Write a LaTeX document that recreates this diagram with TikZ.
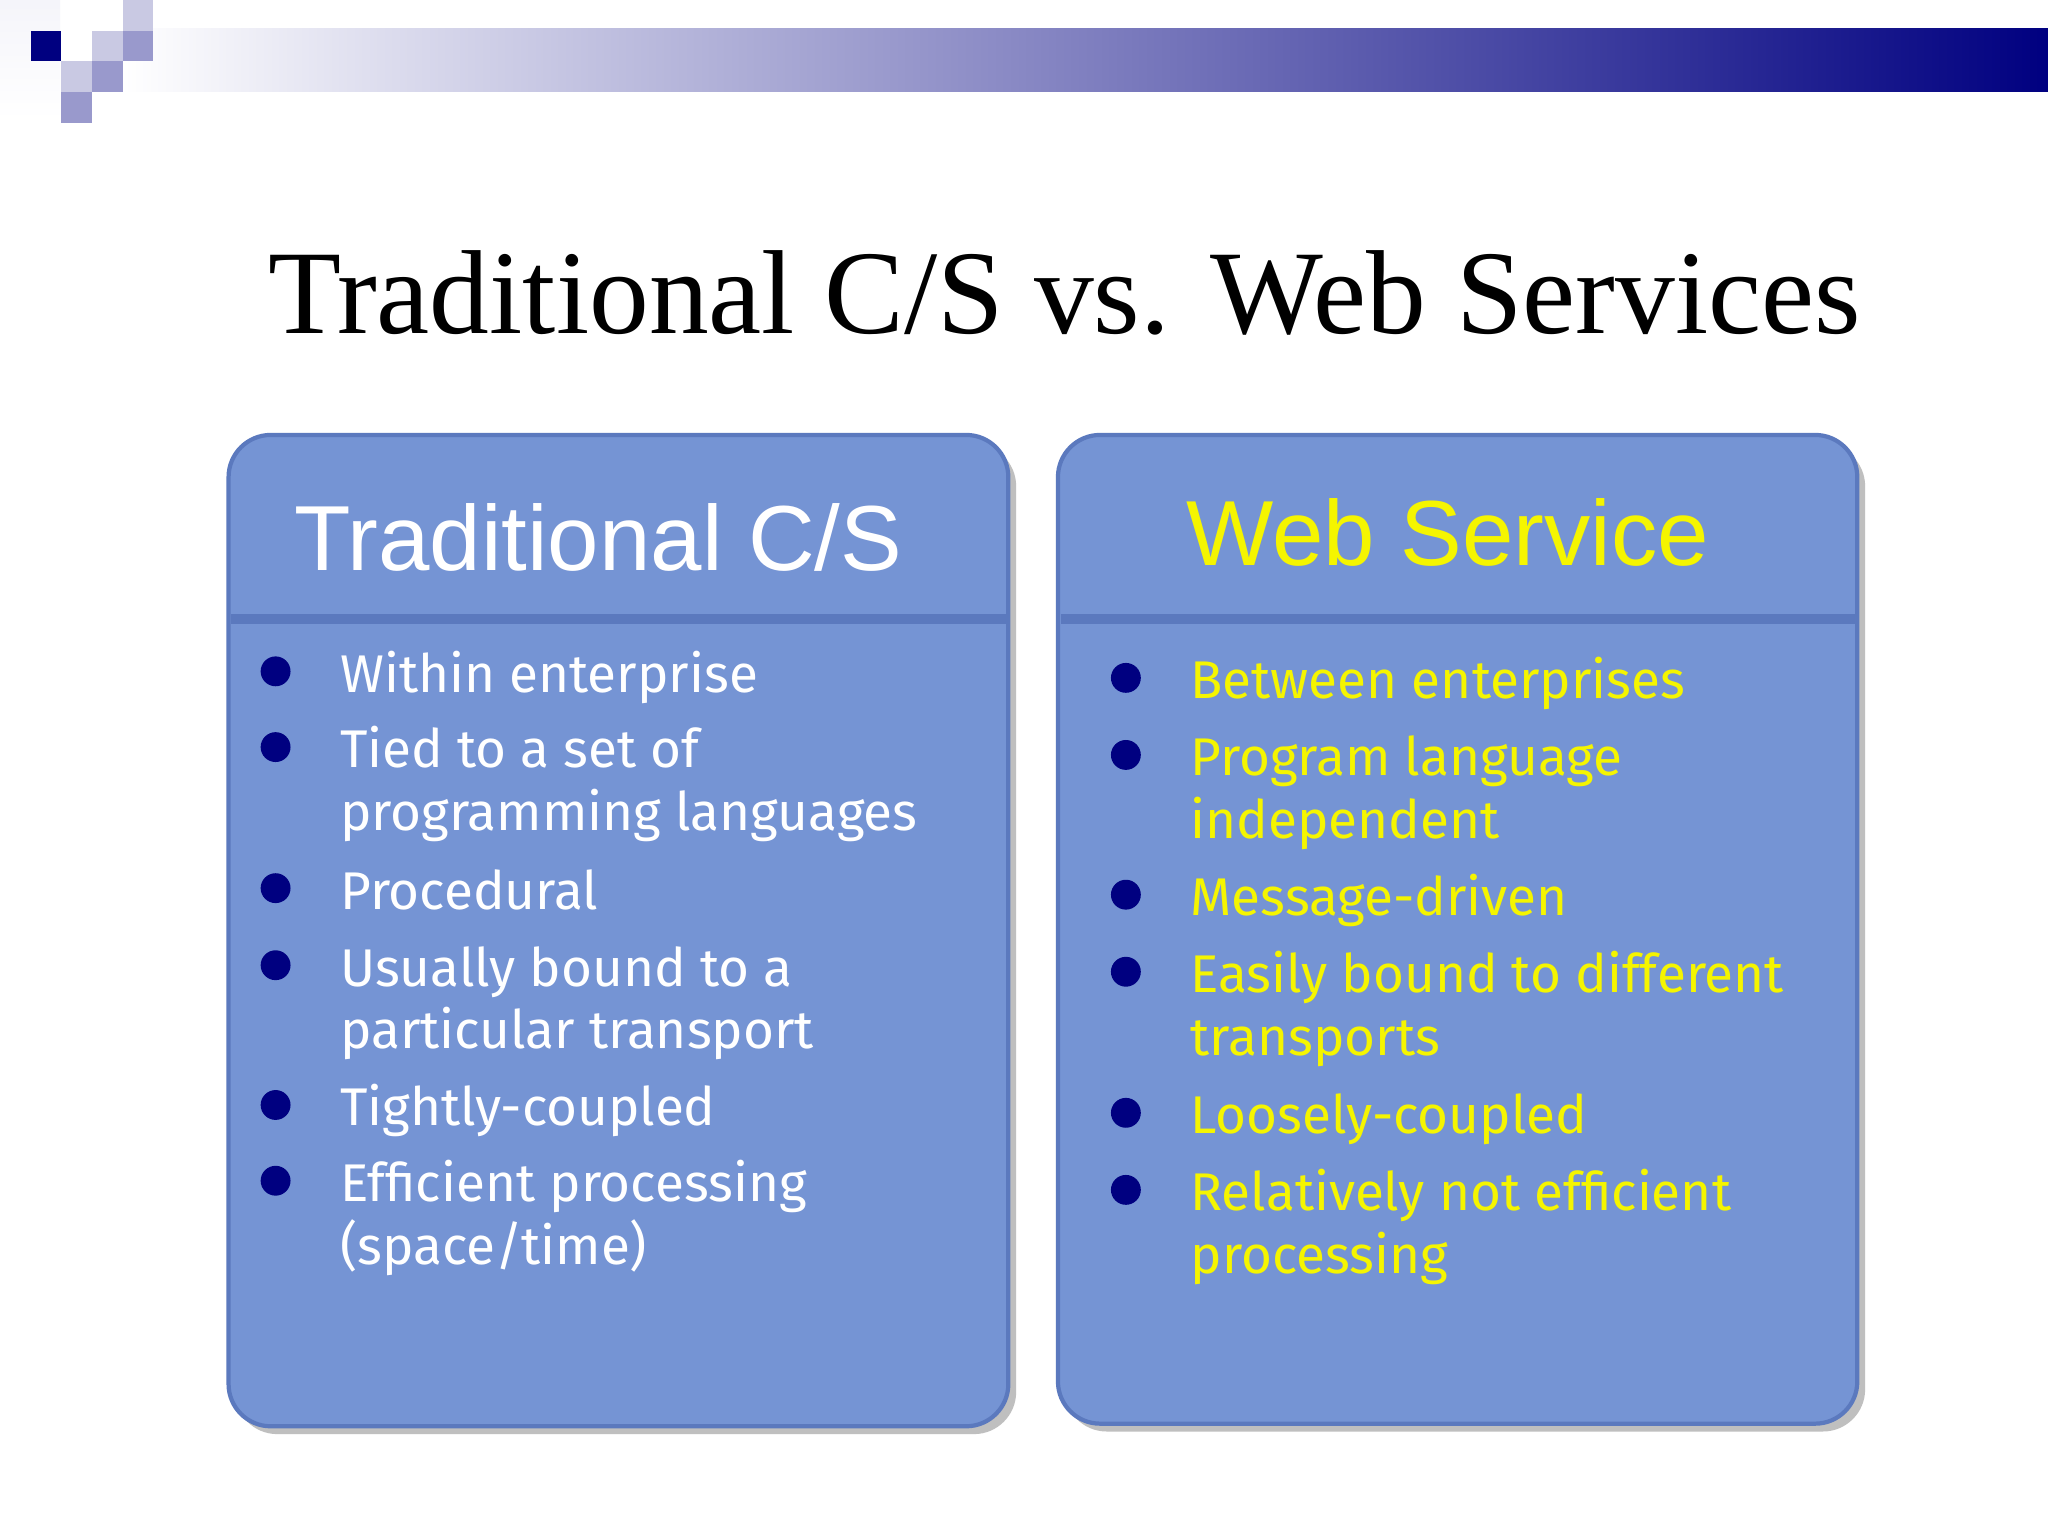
\documentclass[tikz,border=0pt]{standalone}
\usepackage{fontspec}
\setmainfont{Liberation Serif}
\newfontfamily\hdfont{Liberation Sans}
\newfontfamily\bfont{Fira Sans}
\definecolor{navy}{HTML}{000080}
\definecolor{lav}{HTML}{C9C9E3}
\definecolor{lavm}{HTML}{9999CC}
\definecolor{boxc}{HTML}{7594D4}
\definecolor{boxd}{HTML}{5B79BE}
\definecolor{yel}{HTML}{F5F500}
\tikzset{
  panel/.style={fill=boxc, draw=boxd, line width=1.2pt, rounded corners=12},
  item/.style={anchor=base west, inner sep=0, font=\bfont\fontsize{15.1}{18}\selectfont},
  dotmark/.style={circle, fill=navy, inner sep=0, minimum size=8.5pt},
}
\begin{document}
\begin{tikzpicture}[x=0.013061cm,y=-0.013061cm]
\useasboundingbox (0,0) rectangle (1568,1176);
\fill[white] (0,0) rectangle (1568,1176);
% top bar
\shade[left color=white, right color=navy] (95,22) rectangle (1568,70);
\shade[top color=white!90!lavm, bottom color=white] (0,0) rectangle (46,92);
% squares
\def\s{23.5}
\fill[navy] (1*\s,1*\s) rectangle (2*\s,2*\s);
\fill[lav] (4*\s,0) rectangle (5*\s,1*\s);
\fill[lav] (3*\s,1*\s) rectangle (4*\s,2*\s);
\fill[lavm] (4*\s,1*\s) rectangle (5*\s,2*\s);
\fill[lav] (2*\s,2*\s) rectangle (3*\s,3*\s);
\fill[lavm] (3*\s,2*\s) rectangle (4*\s,3*\s);
\fill[lavm] (2*\s,3*\s) rectangle (3*\s,4*\s);
% title
\node[anchor=base, inner sep=0, font=\fontsize{34}{40}\selectfont] (title) at (815,255) {Traditional C/S vs. Web Services};
% shadows
\fill[black!25, rounded corners=12] (180,340) rectangle (778,1098);
\fill[black!25, rounded corners=12] (815,340) rectangle (1428,1096);
% panels
\draw[panel] (175,333) rectangle (772,1092);
\draw[panel] (810,333) rectangle (1422,1090);
\draw[boxd, line width=3pt] (177,474) -- (770,474);
\draw[boxd, line width=3pt] (812,474) -- (1420,474);
% headers
\node[anchor=base west, inner sep=0, text=white, font=\hdfont\fontsize{26.3}{30}\selectfont] (lh) at (225,437) {Traditional C/S};
\node[anchor=base west, inner sep=0, text=yel, font=\hdfont\fontsize{26.3}{30}\selectfont] (rh) at (908,433) {Web Service};
% left bullets
\foreach \y in {530,588,696,755,862,920} \node[dotmark] at (211,\y-16) {};
\begin{scope}[every node/.append style={text=white}]
\node[item] (l1) at (260,530) {Within enterprise};
\node[item] (l2) at (260,588) {Tied to a set of};
\node[item] (l2b) at (260,636) {programming languages};
\node[item] (l3) at (260,696) {Procedural};
\node[item] (l4) at (260,755) {Usually bound to a};
\node[item] (l4b) at (260,803) {particular transport};
\node[item] (l5) at (260,862) {Tightly-coupled};
\node[item] (l6) at (260,920) {Efficient processing};
\node[item] (l6b) at (260,968) {(space/time)};
\end{scope}
% right bullets
\foreach \y in {535,594,701,760,868,927} \node[dotmark] at (862,\y-16) {};
\begin{scope}[every node/.append style={text=yel}]
\node[item] (r1) at (911,535) {Between enterprises};
\node[item] (r2) at (911,594) {Program language};
\node[item] (r2b) at (911,642) {independent};
\node[item] (r3) at (911,701) {Message-driven};
\node[item] (r4) at (911,760) {Easily bound to different};
\node[item] (r4b) at (911,808) {transports};
\node[item] (r5) at (911,868) {Loosely-coupled};
\node[item] (r6) at (911,927) {Relatively not efficient};
\node[item] (r6b) at (911,975) {processing};
\end{scope}
\end{tikzpicture}
\end{document}
